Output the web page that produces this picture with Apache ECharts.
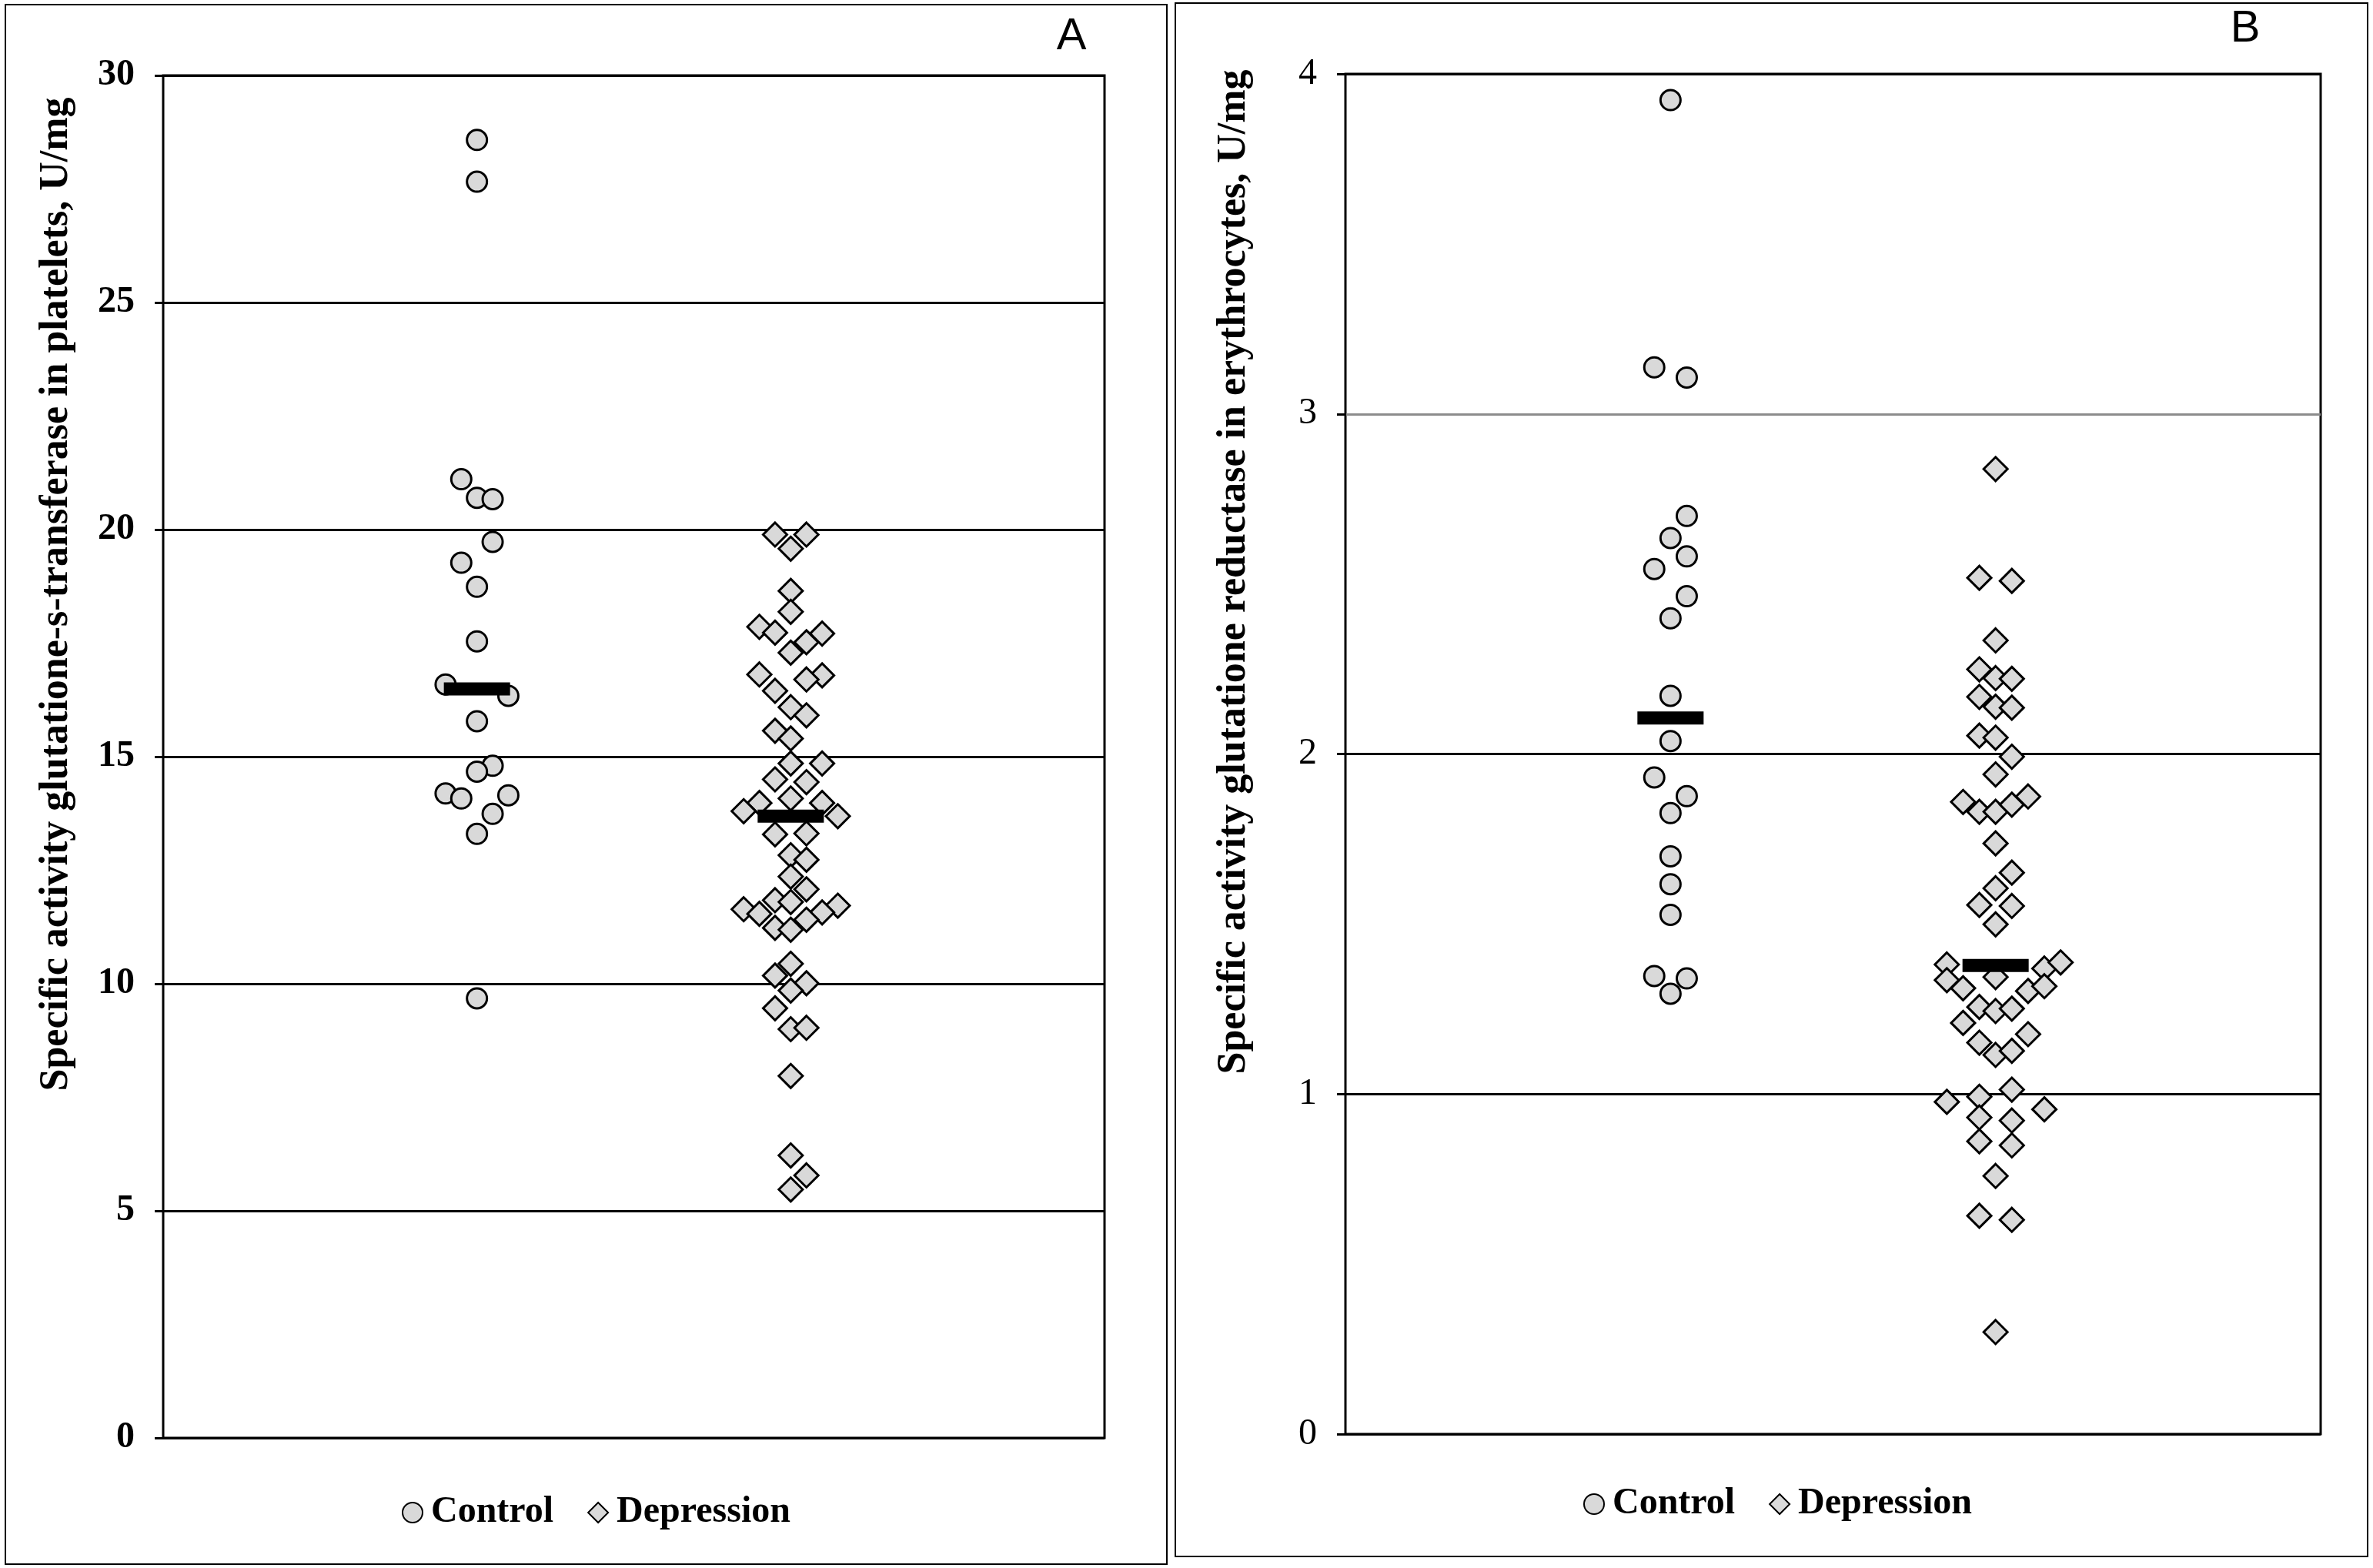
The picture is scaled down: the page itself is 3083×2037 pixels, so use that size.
<!DOCTYPE html>
<html>
<head>
<meta charset="utf-8">
<title>Glutathione enzymes: control vs depression</title>
<script src="https://cdn.jsdelivr.net/npm/echarts@6/dist/echarts.min.js"></script>
<style>
  html, body { margin: 0; padding: 0; background: #fff; }
  #main { width: 3083px; height: 2037px; }
</style>
</head>
<body>
<div id="main"></div>
<script>
// groups on the x axis (1 = Control, 2 = Depression)
var groups = ['Control', 'Depression'];

// A: glutathione-s-transferase in platelets, U/mg
var ctrlA = [28.58, 27.66, 21.11, 20.70, 20.67, 19.73, 19.27, 18.74, 17.54, 16.59,
             16.34, 15.78, 14.80, 14.67, 14.19, 14.08, 14.15, 13.74, 13.30, 9.68];
var ctrlASlot = [0, 0, -1, 0, 1, 1, -1, 0, 0, -2, 2, 0, 1, 0, -2, -1, 2, 1, 0, 0];
var depA = [19.89, 19.89, 19.58, 18.65, 18.19, 17.86, 17.73, 17.71, 17.52, 17.29,
            16.81, 16.79, 16.70, 16.45, 16.09, 15.91, 15.57, 15.40, 14.85, 14.85,
            14.50, 14.44, 14.08, 13.98, 13.98, 13.80, 13.69, 13.29, 13.31, 12.83,
            12.73, 12.36, 12.08, 11.84, 11.80, 11.64, 11.72, 11.54, 11.57, 11.41,
            11.23, 11.19, 10.44, 10.18, 10.01, 9.85, 9.46, 9.00, 9.03, 7.97,
            6.22, 5.78, 5.47];
var depASlot = [-1, 1, 0, 0, 0, -2, -1, 2, 1, 0, -2, 2, 1, -1, 0, 1, -1, 0, 0, 2,
                -1, 1, 0, -2, 2, -3, 3, -1, 1, 0, 1, 0, 1, -1, 0, -3, 3, -2, 2, 1,
                -1, 0, 0, -1, 1, 0, -1, 0, 1, 0, 0, 1, 0];
var medA = [16.49, 13.69];
var ticksA = [0, 5, 10, 15, 20, 25, 30];

// B: glutathione reductase in erythrocytes, U/mg
var ctrlB = [3.923, 3.137, 3.107, 2.700, 2.635, 2.581, 2.544, 2.464, 2.399, 2.171,
             2.038, 1.931, 1.876, 1.826, 1.699, 1.617, 1.527, 1.347, 1.340, 1.295];
var ctrlBSlot = [0, -1, 1, 1, 0, 1, -1, 1, 0, 0, 0, -1, 1, 0, 0, 0, 0, -1, 1, 0];
var depB = [2.838, 2.518, 2.509, 2.334, 2.249, 2.223, 2.221, 2.168, 2.139, 2.136,
            2.054, 2.048, 1.992, 1.940, 1.859, 1.830, 1.830, 1.851, 1.875, 1.737,
            1.651, 1.605, 1.556, 1.553, 1.499, 1.381, 1.369, 1.387, 1.344, 1.335,
            1.311, 1.303, 1.317, 1.256, 1.244, 1.251, 1.209, 1.176, 1.151, 1.115,
            1.127, 1.013, 0.977, 0.992, 0.955, 0.931, 0.922, 0.861, 0.849, 0.759,
            0.642, 0.630, 0.300];
var depBSlot = [0, -1, 1, 0, -1, 0, 1, -1, 0, 1, -1, 0, 1, 0, -2, -1, 0, 1, 2, 0,
                1, 0, -1, 1, 0, -3, 3, 4, 0, -3, -2, 2, 3, -1, 0, 1, -2, 2, -1, 0,
                1, 1, -3, -1, 3, -1, 1, -1, 1, 0, -1, 1, 0];
var medB = [2.106, 1.378];
var ticksB = [0, 1, 2, 3, 4];

var STEP = 0.05;   // swarm spacing on the x scale
var serif = '"Liberation Serif", "Times New Roman", serif';

function swarm(vals, slots, center) {
  return vals.map(function (v, i) { return [center + slots[i] * STEP, v]; });
}
function medians(m) {
  return m.map(function (v, i) { return [i + 1, v]; });
}

var dot = { color: '#d9d9d9', borderColor: '#000', borderWidth: 3, opacity: 1 };

function yAxisFor(idx, ticks, bold, gridColors) {
  return {
    gridIndex: idx, type: 'value',
    min: ticks[0], max: ticks[ticks.length - 1], interval: ticks[1] - ticks[0],
    axisLine: { show: true, lineStyle: { color: '#000', width: 2 } },
    axisTick: { show: true, length: 11, lineStyle: { color: '#000', width: 3 } },
    axisLabel: { color: '#000', fontFamily: serif, fontSize: 48,
                 fontWeight: bold ? 'bold' : 'normal', margin: 37 },
    splitLine: { show: true, lineStyle: { color: gridColors, width: 3 } }
  };
}

function panelSeries(idx, ctrl, ctrlSlot, dep, depSlot, med) {
  return [
    { name: groups[0], type: 'scatter', xAxisIndex: idx, yAxisIndex: idx,
      symbol: 'circle', symbolSize: 26, itemStyle: dot,
      data: swarm(ctrl, ctrlSlot, 1) },
    { name: groups[1], type: 'scatter', xAxisIndex: idx, yAxisIndex: idx,
      symbol: 'diamond', symbolSize: 31, itemStyle: dot,
      data: swarm(dep, depSlot, 2) },
    { name: 'median', type: 'scatter', xAxisIndex: idx, yAxisIndex: idx,
      symbol: 'rect', symbolSize: [86, 17], z: 5, silent: true,
      itemStyle: { color: '#000', opacity: 1 }, data: medians(med) }
  ];
}

function legendAt(left, top) {
  return {
    left: left, top: top, orient: 'horizontal', selectedMode: false,
    itemWidth: 26, itemHeight: 26, itemGap: 44,
    data: [{ name: groups[0], icon: 'circle' }, { name: groups[1], icon: 'diamond' }],
    textStyle: { color: '#000', fontFamily: serif, fontWeight: 'bold', fontSize: 48,
                 padding: [0, 0, 0, 6] }
  };
}

var chart = echarts.init(document.getElementById('main'));
var option = {
  backgroundColor: '#fff',
  animation: false,
  grid: [
    { left: 212, top: 98, width: 1223, height: 1770, show: true,
      borderColor: '#000', borderWidth: 3, backgroundColor: 'transparent' },
    { left: 1748, top: 96, width: 1267, height: 1767, show: true,
      borderColor: '#000', borderWidth: 3, backgroundColor: 'transparent' }
  ],
  xAxis: [
    { gridIndex: 0, type: 'value', min: 0, max: 3, show: false },
    { gridIndex: 1, type: 'value', min: 0, max: 3, show: false }
  ],
  yAxis: [
    yAxisFor(0, ticksA, true, '#000'),
    yAxisFor(1, ticksB, false, ['#000', '#000', '#000', '#8c8c8c', '#000'])
  ],
  legend: [legendAt(517, 1936), legendAt(2052, 1925)],
  series: panelSeries(0, ctrlA, ctrlASlot, depA, depASlot, medA)
    .concat(panelSeries(1, ctrlB, ctrlBSlot, depB, depBSlot, medB)),
  graphic: [
    { type: 'rect', shape: { x: 7, y: 6, width: 1509, height: 2026 },
      style: { fill: 'none', stroke: '#000', lineWidth: 2 } },
    { type: 'rect', shape: { x: 1527, y: 4, width: 1549, height: 2018 },
      style: { fill: 'none', stroke: '#000', lineWidth: 2 } },
    { type: 'text', x: 74, y: 772, rotation: Math.PI / 2,
      style: { text: 'Specific activity glutatione-s-transferase in platelets, U/mg',
               fontFamily: serif, fontWeight: 'bold', fontSize: 52, fill: '#000',
               align: 'center', verticalAlign: 'middle' } },
    { type: 'text', x: 1604, y: 743, rotation: Math.PI / 2,
      style: { text: 'Specific activity glutatione reductase in erythrocytes, U/mg',
               fontFamily: serif, fontWeight: 'bold', fontSize: 52, fill: '#000',
               align: 'center', verticalAlign: 'middle' } },
    { type: 'text', x: 1392, y: 48,
      style: { text: 'A', fontFamily: '"Liberation Sans", Arial, sans-serif', fontSize: 58,
               fill: '#000', align: 'center', verticalAlign: 'middle' } },
    { type: 'text', x: 2917, y: 38,
      style: { text: 'B', fontFamily: '"Liberation Sans", Arial, sans-serif', fontSize: 58,
               fill: '#000', align: 'center', verticalAlign: 'middle' } }
  ]
};
chart.setOption(option);
</script>
</body>
</html>
